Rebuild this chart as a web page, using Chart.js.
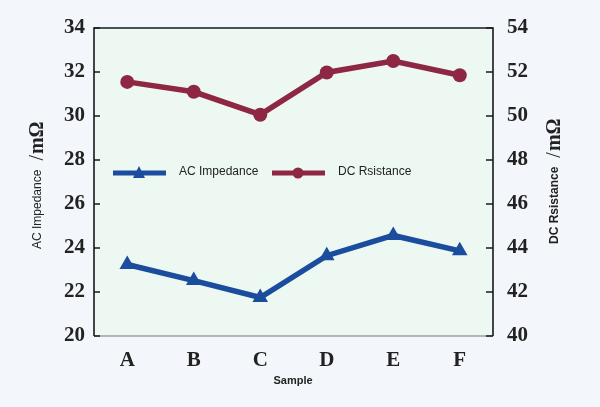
<!DOCTYPE html>
<html>
<head>
<meta charset="utf-8">
<script src="https://cdn.jsdelivr.net/npm/chart.js@4"></script>
<style>
  html, body { margin: 0; padding: 0; background: #f3f7fb; }
  #wrap { width: 600px; height: 407px; }
</style>
</head>
<body>
<div id="wrap"><canvas id="chart" width="600" height="407"></canvas></div>
<script>
const samples = ['A', 'B', 'C', 'D', 'E', 'F'];
const acImpedance = [23.25, 22.52, 21.75, 23.65, 24.57, 23.87];
const dcResistance = [51.55, 51.1, 50.06, 51.98, 52.5, 51.85];
const acTicks = [20, 22, 24, 26, 28, 30, 32, 34];
const dcTicks = [40, 42, 44, 46, 48, 50, 52, 54];

const blue = '#1b4d9e';
const red = '#8e2744';
const serif = '"Liberation Serif", "Times New Roman", serif';
const sans = '"Liberation Sans", Arial, sans-serif';

// plot box, inward ticks, legend and the two-font axis titles
const frame = {
  id: 'frame',
  beforeDatasetsDraw(chart) {
    const { ctx, chartArea: a } = chart;
    const yl = chart.scales.y;
    const yr = chart.scales.y2;
    ctx.save();
    ctx.fillStyle = '#eef8f2';
    ctx.fillRect(a.left, a.top, a.right - a.left, a.bottom - a.top);

    ctx.lineWidth = 1.6;
    ctx.strokeStyle = '#9aa0a0';
    ctx.beginPath();
    ctx.moveTo(a.left, a.bottom);
    ctx.lineTo(a.right, a.bottom);
    ctx.stroke();

    ctx.strokeStyle = '#1a1a1a';
    ctx.beginPath();
    ctx.moveTo(a.left, a.bottom);
    ctx.lineTo(a.left, a.top);
    ctx.lineTo(a.right, a.top);
    ctx.lineTo(a.right, a.bottom);
    ctx.stroke();

    ctx.lineWidth = 1.4;
    ctx.beginPath();
    for (const v of acTicks) {
      const y = yl.getPixelForValue(v);
      ctx.moveTo(a.left, y);
      ctx.lineTo(a.left + 6, y);
    }
    for (const v of dcTicks) {
      const y = yr.getPixelForValue(v);
      ctx.moveTo(a.right, y);
      ctx.lineTo(a.right - 7, y);
    }
    ctx.stroke();
    ctx.restore();
  },
  afterDraw(chart) {
    const { ctx } = chart;
    ctx.save();

    // legend
    const items = [
      { x: 113, text: 'AC Impedance', color: blue, style: 'triangle' },
      { x: 272, text: 'DC Rsistance', color: red, style: 'circle' }
    ];
    const ly = 173;
    for (const it of items) {
      ctx.strokeStyle = it.color;
      ctx.fillStyle = it.color;
      ctx.lineWidth = 5;
      ctx.beginPath();
      ctx.moveTo(it.x, ly);
      ctx.lineTo(it.x + 53, ly);
      ctx.stroke();
      const cx = it.x + 26;
      ctx.beginPath();
      if (it.style === 'circle') {
        ctx.arc(cx, ly, 5.5, 0, Math.PI * 2);
      } else {
        ctx.moveTo(cx, ly - 7);
        ctx.lineTo(cx + 6, ly + 5);
        ctx.lineTo(cx - 6, ly + 5);
        ctx.closePath();
      }
      ctx.fill();
      ctx.fillStyle = '#222';
      ctx.font = '12px ' + sans;
      ctx.textBaseline = 'middle';
      ctx.textAlign = 'left';
      ctx.fillText(it.text, it.x + 66, ly - 1);
    }

    // x title
    ctx.fillStyle = '#222';
    ctx.font = 'bold 11px ' + sans;
    ctx.textAlign = 'center';
    ctx.fillText('Sample', 293, 381);

    // rotated y titles
    const yTitle = (x, yStart, label, weight) => {
      ctx.save();
      ctx.translate(x, yStart);
      ctx.rotate(-Math.PI / 2);
      ctx.textAlign = 'left';
      ctx.textBaseline = 'middle';
      ctx.font = weight + ' 12px ' + sans;
      ctx.fillText(label, 0, 0);
      let w = ctx.measureText(label).width + 9;
      ctx.font = '20px ' + serif;
      ctx.fillText('/', w, 0);
      w += ctx.measureText('/').width + 1;
      ctx.font = 'bold 20px ' + serif;
      ctx.fillText('mΩ', w, 0);
      ctx.restore();
    };
    yTitle(38, 249, 'AC Impedance', 'normal');
    yTitle(555, 244, 'DC Rsistance', 'bold');

    ctx.restore();
  }
};

new Chart(document.getElementById('chart'), {
  type: 'line',
  data: {
    labels: samples,
    datasets: [
      {
        label: 'AC Impedance',
        data: acImpedance,
        yAxisID: 'y',
        borderColor: blue,
        backgroundColor: blue,
        borderWidth: 5.5,
        pointStyle: 'triangle',
        pointRadius: 9,
        pointBorderWidth: 0,
        tension: 0
      },
      {
        label: 'DC Rsistance',
        data: dcResistance,
        yAxisID: 'y2',
        borderColor: red,
        backgroundColor: red,
        borderWidth: 5.5,
        pointStyle: 'circle',
        pointRadius: 7,
        pointBorderWidth: 0,
        tension: 0
      }
    ]
  },
  options: {
    responsive: false,
    animation: false,
    layout: { padding: { top: 28, left: 0, right: 0, bottom: 0 } },
    plugins: {
      legend: { display: false },
      tooltip: { enabled: false }
    },
    scales: {
      x: {
        offset: true,
        grid: { display: false, drawTicks: false },
        border: { display: false },
        ticks: {
          color: '#222',
          padding: 12,
          font: { family: serif, size: 21, weight: 'bold' }
        },
        afterFit: (s) => { s.height = 71; }
      },
      y: {
        position: 'left',
        min: 20,
        max: 34,
        grid: { display: false, drawTicks: false },
        border: { display: false },
        ticks: {
          stepSize: 2,
          color: '#222',
          padding: 9,
          font: { family: serif, size: 21, weight: 'bold' }
        },
        afterFit: (s) => { s.width = 94; }
      },
      y2: {
        position: 'right',
        min: 40,
        max: 54,
        grid: { display: false, drawTicks: false },
        border: { display: false },
        ticks: {
          stepSize: 2,
          color: '#222',
          padding: 14,
          font: { family: serif, size: 21, weight: 'bold' }
        },
        afterFit: (s) => { s.width = 107; }
      }
    }
  },
  plugins: [frame]
});
</script>
</body>
</html>
